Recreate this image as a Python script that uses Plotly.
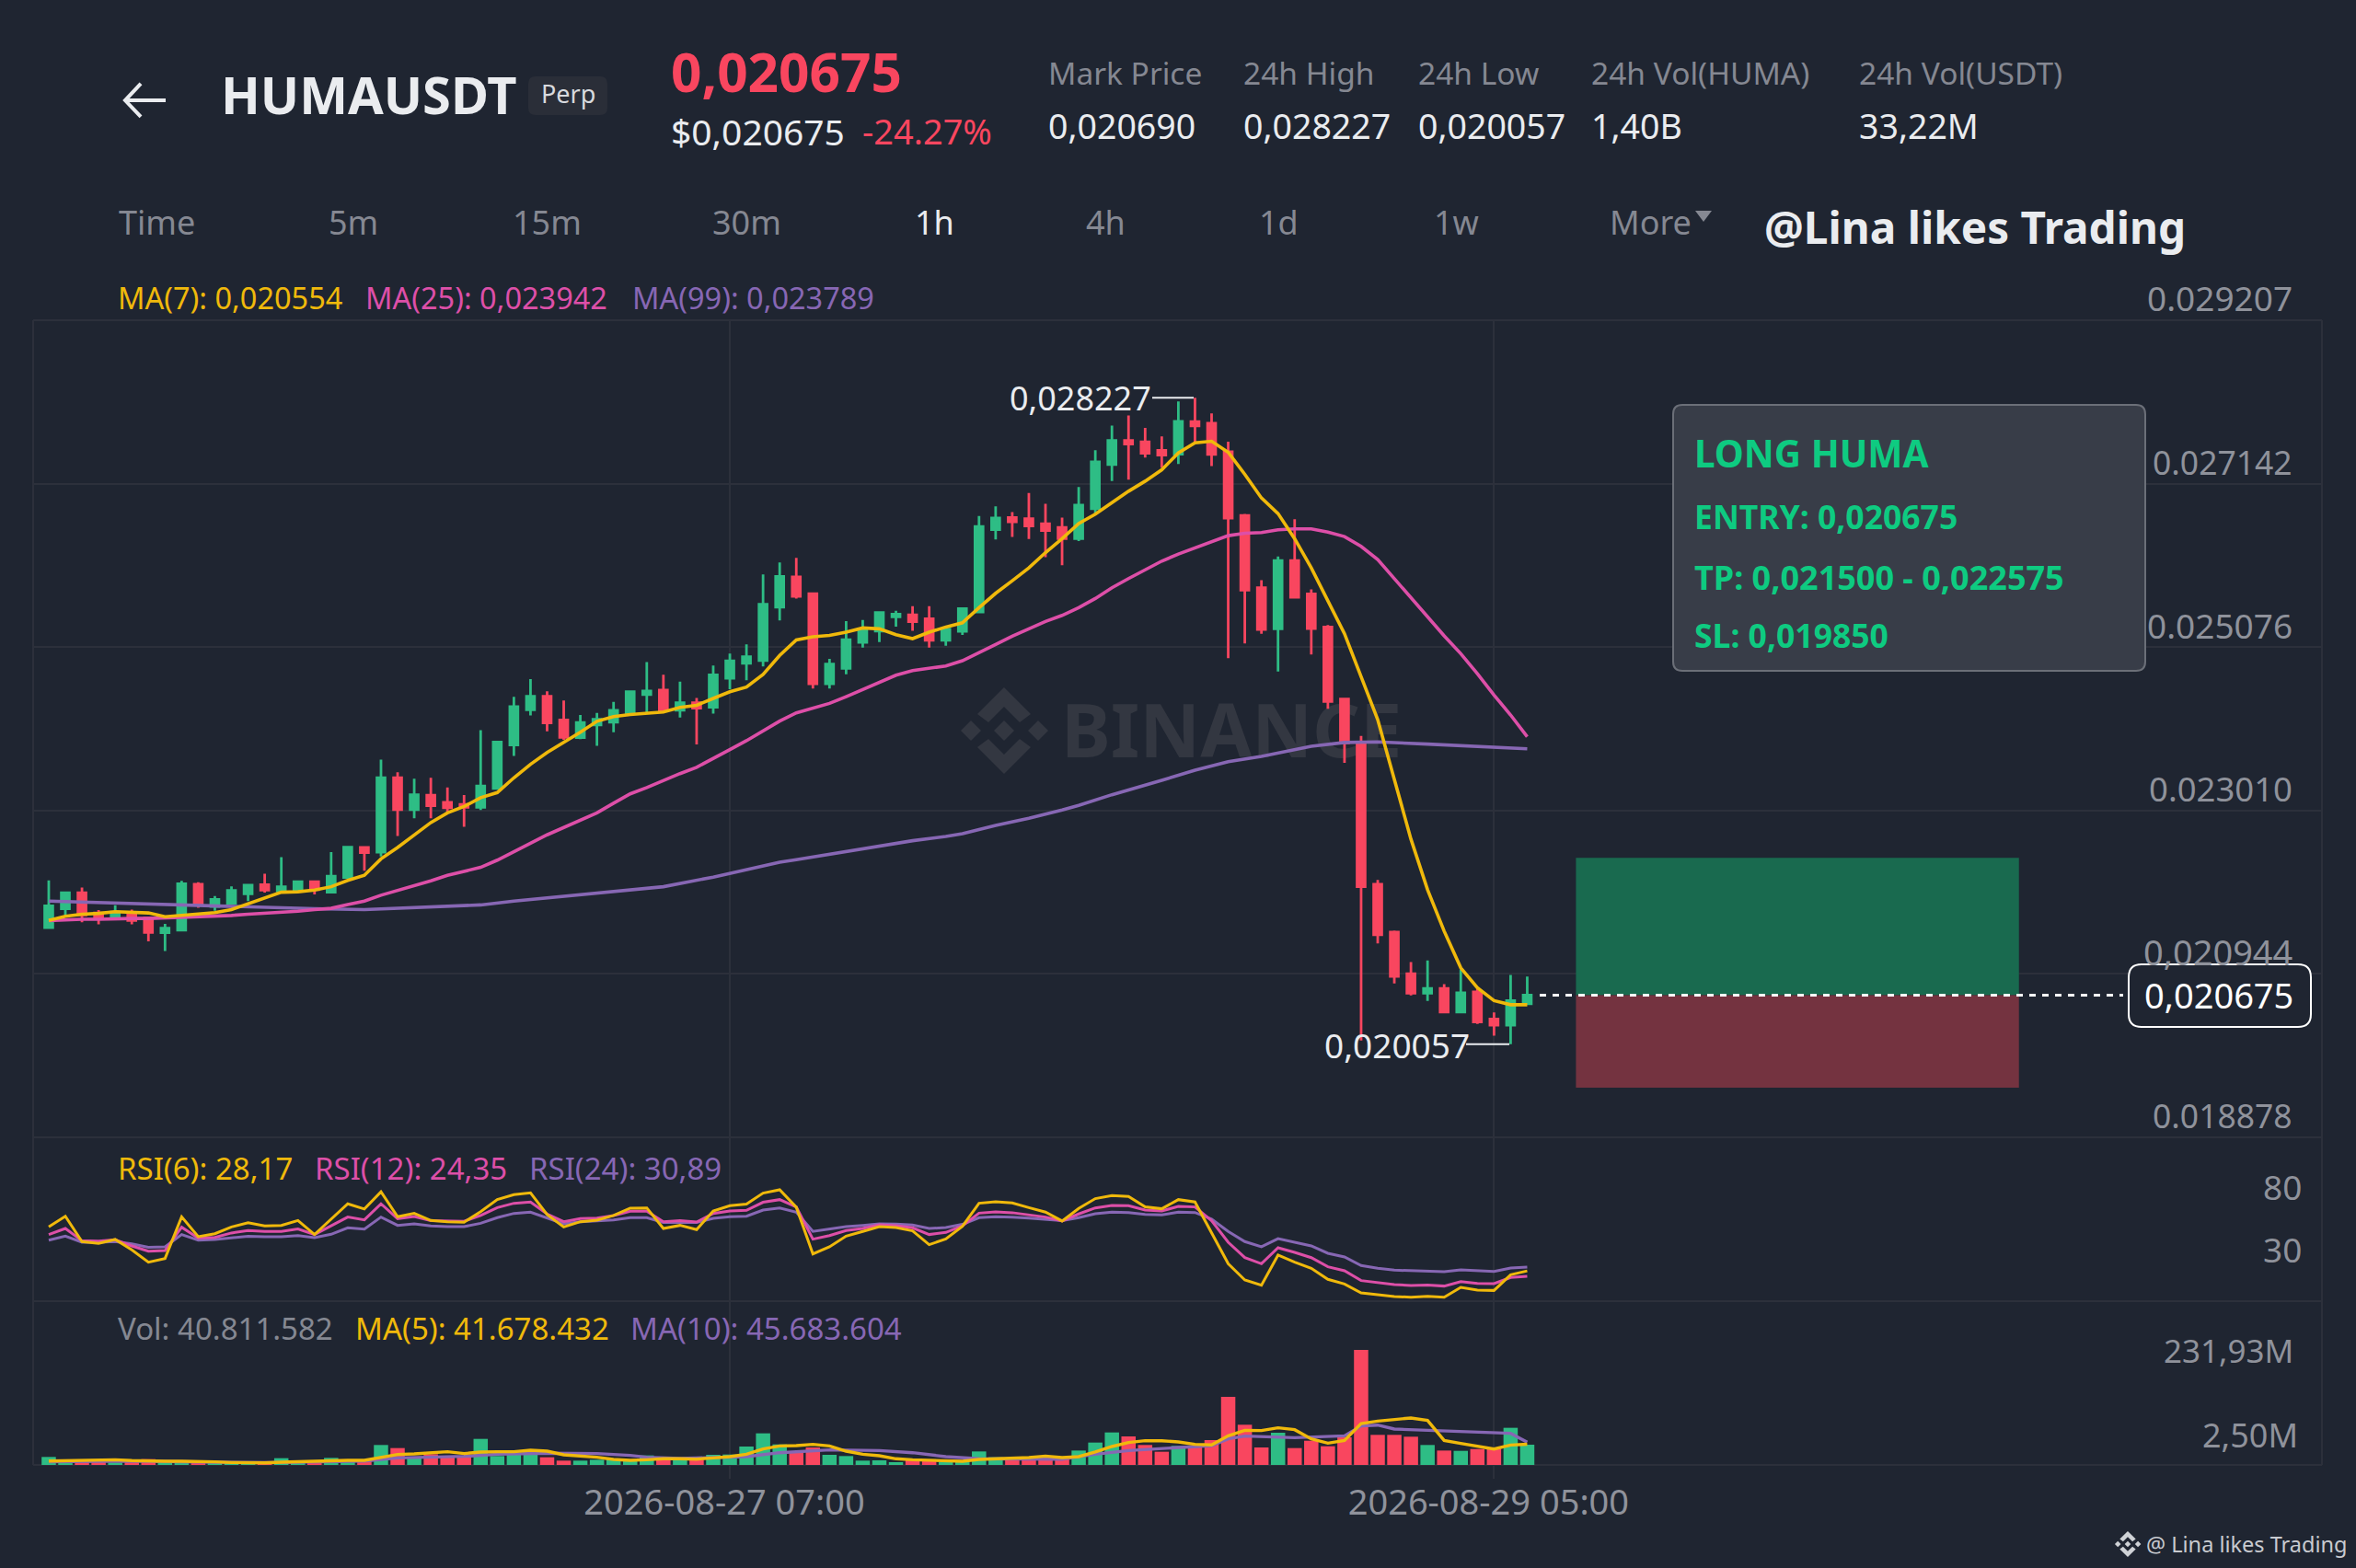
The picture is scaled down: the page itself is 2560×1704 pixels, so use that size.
import numpy as np
import pandas as pd
import plotly.graph_objects as go

W, H = 2560, 1704
BG = "#1f2531"
GRID = "#2c303b"
GREEN = "#2ebd85"
RED = "#f9465f"
YELLOW = "#f0b90b"
PINK = "#dd4fa8"
PURPLE = "#8767b4"
GREY = "#858892"
AXIS = "#8f929b"
WHITE = "#eaecef"
FONT = "Noto Sans"

dates = pd.date_range("2026-08-25 14:00", periods=90, freq="h")

# prices in millionths of USDT
open_ = [21528, 21768, 21971, 21715, 21661, 21715, 21651, 21464, 21496, 22078,
         21795, 21838, 21955, 22072, 21992, 21992, 22110, 21976, 22163, 22542,
         22483, 23423, 23022, 23204, 23113, 23086, 23049, 23289, 23839, 24282,
         24453, 24154, 23930, 24090, 24127, 24244, 24474, 24533, 24276, 24372,
         24314, 24682, 24869, 24906, 25579, 25964, 25751, 24612, 24806, 25135,
         25278, 25457, 25484, 25433, 25162, 25275, 25519, 26561, 26712, 26700,
         26635, 26588, 26445, 26824, 27382, 27688, 27669, 27561, 27514, 27925,
         27906, 27545, 26740, 25825, 25306, 26170, 25748, 25329, 24419, 23860,
         22078, 21474, 20947, 20699, 20761, 20462, 20718, 20373, 20296, 20567]
high = [22126, 21971, 22035, 21752, 21811, 21757, 21661, 21576, 22120, 22104,
        21928, 22051, 22083, 22211, 22419, 22115, 22126, 22483, 22547, 22542,
        23652, 23492, 23412, 23423, 23300, 23204, 24026, 23887, 24447, 24671,
        24517, 24399, 24218, 24244, 24383, 24511, 24885, 24725, 24639, 24431,
        24842, 24992, 25109, 25995, 26144, 26204, 25751, 24926, 25402, 25418,
        25523, 25534, 25592, 25592, 25302, 25561, 26731, 26855, 26782, 27022,
        26886, 26712, 27099, 27564, 27874, 28002, 27847, 27739, 28180, 28227,
        28030, 27673, 26759, 25922, 26220, 26693, 25806, 25353, 24427, 23953,
        22132, 21493, 21094, 21113, 20815, 21001, 20761, 20458, 20931, 20912]
low = [21523, 21688, 21597, 21571, 21661, 21571, 21357, 21234, 21496, 21779,
       21741, 21821, 21864, 21971, 21992, 21992, 21950, 21976, 22163, 22248,
       22430, 22686, 22910, 22910, 22996, 22803, 23017, 23289, 23700, 24212,
       24010, 23903, 23913, 23828, 23999, 24244, 24244, 24244, 24186, 23844,
       24234, 24543, 24655, 24831, 25413, 25689, 24550, 24550, 24732, 25069,
       25139, 25333, 25282, 25069, 25092, 25228, 25519, 26437, 26468, 26441,
       26212, 26111, 26414, 26766, 27173, 27192, 27471, 27344, 27390, 27666,
       27363, 24934, 25120, 25244, 24767, 25705, 24981, 24295, 23613, 20102,
       21330, 20823, 20672, 20602, 20462, 20451, 20311, 20164, 20057, 20567]
close = [21806, 21971, 21688, 21651, 21725, 21619, 21469, 21523, 22083, 21821,
         21885, 21998, 22067, 22003, 22046, 22110, 22008, 22179, 22547, 22478,
         23423, 23022, 23209, 23070, 23044, 23049, 23321, 23876, 24324, 24453,
         24116, 23935, 24122, 24164, 24276, 24511, 24522, 24276, 24372, 24303,
         24725, 24901, 24954, 25616, 25968, 25716, 24612, 24860, 25170, 25302,
         25511, 25492, 25395, 25162, 25302, 25561, 26600, 26708, 26658, 26607,
         26549, 26445, 26871, 27417, 27688, 27642, 27526, 27502, 27929, 27871,
         27511, 26705, 25794, 25298, 26170, 25705, 25310, 24388, 23865, 22047,
         21439, 20912, 20699, 20761, 20462, 20706, 20338, 20296, 20606, 20675]

ma7 = [21619, 21672, 21699, 21709, 21731, 21725, 21715, 21667, 21683, 21699,
       21720, 21757, 21827, 21902, 21976, 21982, 22003, 22046, 22126, 22190,
       22398, 22542, 22702, 22857, 22980, 23060, 23172, 23236, 23423, 23593,
       23743, 23866, 23999, 24138, 24196, 24223, 24234, 24255, 24314, 24340,
       24426, 24511, 24570, 24730, 24970, 25166, 25205, 25224, 25263, 25317,
       25306, 25232, 25182, 25263, 25329, 25383, 25573, 25755, 25914, 26077,
       26270, 26445, 26638, 26755, 26902, 27045, 27173, 27317, 27530, 27658,
       27677, 27538, 27259, 26960, 26763, 26445, 26077, 25670, 25244, 24702,
       24159, 23403, 22648, 22008, 21485, 21020, 20768, 20606, 20555, 20554]
ma25 = [21619, 21629, 21635, 21635, 21645, 21645, 21645, 21651, 21656, 21667,
        21672, 21683, 21699, 21709, 21720, 21736, 21757, 21773, 21821, 21864,
        21939, 21998, 22062, 22120, 22190, 22238, 22291, 22382, 22483, 22595,
        22702, 22793, 22889, 22980, 23102, 23220, 23300, 23391, 23476, 23556,
        23663, 23780, 23892, 24020, 24139, 24244, 24302, 24364, 24449, 24538,
        24635, 24720, 24779, 24806, 24837, 24903, 25011, 25108, 25213, 25309,
        25399, 25476, 25573, 25689, 25825, 25941, 26057, 26162, 26251, 26329,
        26399, 26484, 26515, 26523, 26557, 26569, 26569, 26530, 26472, 26348,
        26182, 25941, 25697, 25457, 25217, 24992, 24740, 24469, 24217, 23942]
ma99_idx = [0, 4, 8, 12, 16, 19, 23, 26, 28, 31, 34, 37, 40, 43, 44, 45, 46, 48, 50,
            52, 54, 55, 57, 59, 61, 62, 64, 66, 67, 69, 71, 73, 75, 76, 78, 80, 83, 87, 89]
ma99 = [21864, 21838, 21811, 21784, 21768, 21757, 21790, 21816, 21864, 21923, 21982,
        22046, 22168, 22302, 22355, 22388, 22423, 22493, 22558, 22628, 22682, 22717,
        22822, 22911, 23016, 23074, 23209, 23326, 23391, 23519, 23628, 23694, 23783,
        23822, 23869, 23876, 23849, 23803, 23789]

rsi6 = [59.4, 67.0, 49.0, 47.7, 50.5, 43.1, 34.4, 37.0, 66.6, 52.5,
        54.6, 59.4, 62.3, 60.1, 60.5, 64.0, 54.0, 64.9, 75.8, 72.1,
        84.3, 66.6, 69.0, 64.0, 63.1, 62.7, 70.3, 78.8, 82.3, 83.6,
        68.1, 59.4, 63.1, 64.2, 67.5, 72.7, 72.9, 58.3, 60.5, 57.5,
        70.7, 74.5, 75.6, 83.4, 85.8, 73.4, 40.2, 45.3, 52.9, 56.2,
        59.6, 59.0, 56.6, 46.8, 50.9, 59.9, 76.2, 77.3, 76.4, 73.1,
        69.9, 63.6, 72.5, 79.5, 81.6, 81.0, 73.6, 72.3, 78.8, 77.1,
        55.1, 33.3, 21.7, 18.0, 39.4, 34.4, 30.0, 22.2, 18.9, 12.6,
        11.3, 10.0, 9.5, 10.2, 9.5, 16.5, 14.5, 14.3, 25.4, 28.17]
rsi12 = [54.0, 58.3, 49.6, 49.4, 50.3, 45.9, 42.2, 42.6, 59.2, 51.4,
         52.0, 55.1, 56.8, 56.2, 56.2, 57.9, 54.0, 60.1, 66.4, 64.4,
         75.8, 65.3, 66.8, 63.8, 63.4, 63.4, 67.5, 73.1, 76.2, 77.1,
         68.6, 63.1, 65.3, 65.7, 67.5, 70.5, 70.5, 63.1, 63.8, 62.9,
         69.0, 70.7, 71.2, 76.9, 78.8, 73.6, 50.7, 53.3, 56.8, 58.3,
         60.9, 60.3, 58.8, 54.0, 55.5, 60.1, 69.2, 70.1, 69.5, 68.1,
         66.4, 63.6, 68.6, 72.9, 74.7, 74.5, 71.4, 70.7, 74.0, 73.6,
         63.8, 48.5, 37.6, 33.3, 44.6, 41.3, 37.6, 31.1, 28.3, 21.3,
         19.8, 18.5, 17.8, 18.2, 17.4, 20.6, 19.3, 19.1, 23.5, 24.35]
rsi24 = [50.0, 52.9, 48.5, 48.5, 49.0, 47.4, 45.0, 45.3, 54.0, 50.0,
         50.5, 51.8, 52.7, 52.5, 52.5, 53.3, 51.8, 54.2, 58.8, 57.9,
         66.4, 60.5, 61.6, 60.1, 59.6, 59.6, 62.0, 66.0, 69.0, 69.9,
         65.5, 61.6, 63.1, 63.6, 64.4, 66.0, 66.0, 62.5, 62.7, 62.5,
         65.5, 66.6, 67.0, 71.4, 72.9, 69.9, 56.2, 57.7, 59.6, 60.5,
         61.6, 61.4, 60.7, 58.3, 59.0, 61.2, 66.0, 66.6, 66.4, 65.7,
         64.9, 63.8, 66.0, 68.8, 69.9, 69.6, 68.3, 67.9, 69.9, 69.6,
         64.9, 56.2, 49.0, 45.3, 51.1, 48.5, 45.9, 40.7, 38.1, 32.0,
         30.0, 28.7, 28.3, 28.3, 27.6, 28.9, 28.3, 27.8, 30.2, 30.89]

# volume in millions
volume = [16.1, 4.3, 5.6, 6.2, 4.9, 7.4, 11.7, 7.4, 7.4, 6.2,
          4.3, 4.3, 4.3, 3.7, 13.6, 7.4, 6.2, 14.2, 6.8, 7.4,
          40.2, 34.0, 13.6, 21.6, 15.5, 18.5, 52.5, 17.9, 24.1, 26.6,
          15.5, 8.7, 8.7, 10.5, 12.4, 10.5, 19.2, 13.6, 11.7, 10.5,
          20.4, 21.0, 37.1, 63.7, 41.4, 24.7, 35.2, 20.4, 17.9, 8.7,
          9.3, 5.6, 11.1, 11.1, 6.2, 6.2, 27.2, 15.5, 12.4, 12.4,
          14.2, 12.4, 29.0, 45.1, 65.5, 57.5, 40.2, 26.6, 38.3, 37.1,
          50.1, 137.2, 81.0, 35.2, 64.9, 34.0, 48.8, 37.7, 55.6, 231.93,
          60.6, 60.6, 56.9, 40.2, 29.0, 28.4, 32.1, 32.8, 74.8, 40.81]
vol_ma5 = [8.0, 8.7, 9.9, 10.5, 10.5, 8.7, 7.4, 7.4, 7.4, 7.4,
           6.2, 4.9, 4.3, 4.3, 5.6, 6.8, 7.4, 9.3, 9.3, 9.3,
           15.5, 21.0, 22.2, 24.7, 26.6, 22.9, 26.0, 26.6, 26.6, 29.7,
           27.8, 20.4, 17.9, 15.5, 11.1, 9.3, 10.5, 12.4, 12.4, 11.7,
           14.2, 16.7, 21.6, 32.1, 38.3, 38.9, 41.4, 38.3, 27.8, 21.6,
           18.5, 12.4, 10.5, 9.3, 8.0, 7.4, 11.1, 12.4, 13.0, 14.8,
           17.9, 14.8, 16.7, 26.0, 37.1, 45.1, 48.8, 48.8, 46.4, 41.4,
           40.2, 58.7, 69.8, 69.2, 74.8, 71.1, 52.5, 43.9, 49.4, 83.4,
           88.4, 90.8, 94.6, 89.6, 49.4, 43.3, 38.3, 32.1, 40.2, 41.68]
vol_ma10_idx = [0, 5, 10, 14, 19, 20, 21, 25, 27, 30, 33, 35, 36, 38, 42, 44, 46, 47, 50, 52,
                54, 56, 61, 63, 65, 68, 70, 71, 72, 75, 78, 79, 80, 81, 83, 85, 87, 88, 89]
vol_ma10 = [6.2, 8.0, 5.6, 4.9, 8.0, 11.7, 14.2, 17.3, 21.6, 23.5, 22.9, 19.2, 15.5, 13.0,
            16.7, 24.7, 27.8, 30.3, 29.0, 24.7, 16.7, 12.4, 11.7, 21.6, 29.0, 34.0, 38.9,
            52.5, 58.1, 55.0, 58.7, 78.5, 80.3, 72.3, 69.8, 66.1, 63.7, 63.7, 45.68]

price_ticks = [0.029207, 0.027142, 0.025076, 0.023010, 0.020944, 0.018878]
price_tick_labels = ["0.029207", "0.027142", "0.025076", "0.023010", "0,020944", "0.018878"]
price_tick_sizes = [37, 35.5, 37, 36.5, 38, 35.5]
time_ticks = ["2026-08-27 07:00", "2026-08-29 05:00"]

entry = 0.020675
zone_top = 0.022411
zone_bottom = 0.019506
zone_start = "2026-08-29 09:56"
zone_end = "2026-08-30 12:36"
x_range = ["2026-08-25 13:03:36", "2026-08-31 06:50:24"]


def px(x):
    return x / W


def py(y):
    return 1 - y / H


def micro(values):
    return np.array(values) / 1e6


def txt(x, y, text, color=WHITE, size=33, anchor="left", weight=400):
    # annotations sit a little right of and below the requested spot
    x = x - 1.5 if anchor == "left" else x
    return dict(xref="paper", yref="paper", x=px(x), y=py(y - 2), text=text, showarrow=False,
                xanchor=anchor, yanchor="middle", borderpad=0,
                font=dict(family=FONT, size=size, color=color, weight=weight))


def poly(points):
    return "M " + " L ".join(f"{px(a):.5f},{py(b):.5f}" for a, b in points) + " Z"


def rounded(x0, y0, x1, y1, r):
    return (f"M {px(x0 + r):.5f},{py(y0):.5f} L {px(x1 - r):.5f},{py(y0):.5f} "
            f"Q {px(x1):.5f},{py(y0):.5f} {px(x1):.5f},{py(y0 + r):.5f} "
            f"L {px(x1):.5f},{py(y1 - r):.5f} Q {px(x1):.5f},{py(y1):.5f} {px(x1 - r):.5f},{py(y1):.5f} "
            f"L {px(x0 + r):.5f},{py(y1):.5f} Q {px(x0):.5f},{py(y1):.5f} {px(x0):.5f},{py(y1 - r):.5f} "
            f"L {px(x0):.5f},{py(y0 + r):.5f} Q {px(x0):.5f},{py(y0):.5f} {px(x0 + r):.5f},{py(y0):.5f} Z")


def logo(cx, cy, s, color, layer):
    # five pieces of the exchange mark, s=1 is 47px from centre to tip
    parts = []
    for dx in (-36, 0, 37):
        parts.append([(cx + (dx - 11) * s, cy), (cx + dx * s, cy - 11 * s),
                      (cx + (dx + 11) * s, cy), (cx + dx * s, cy + 11 * s)])
    for sign in (1, -1):
        parts.append([(cx, cy + 47 * s * sign), (cx - 29 * s, cy + 18 * s * sign),
                      (cx - 17 * s, cy + 9 * s * sign), (cx, cy + 26 * s * sign),
                      (cx + 17 * s, cy + 9 * s * sign), (cx + 29 * s, cy + 18 * s * sign)])
    return [dict(type="path", xref="paper", yref="paper", path=poly(p), fillcolor=color,
                 line=dict(width=0), layer=layer) for p in parts]


fig = go.Figure()

# watermark sits under the candles
fig.add_trace(go.Scatter(x=["2026-08-28 13:12"], y=[0.023923], mode="text", text=["BINANCE"],
                         textposition="middle center", zorder=-1, hoverinfo="skip",
                         textfont=dict(family=FONT, size=81, color="#333741", weight=700),
                         xaxis="x", yaxis="y"))

fig.add_trace(go.Candlestick(x=dates, open=micro(open_), high=micro(high), low=micro(low),
                             close=micro(close), xaxis="x", yaxis="y", whiskerwidth=0,
                             increasing=dict(line=dict(color=GREEN, width=2.8), fillcolor=GREEN),
                             decreasing=dict(line=dict(color=RED, width=2.8), fillcolor=RED)))
fig.add_trace(go.Scatter(x=dates[ma99_idx], y=micro(ma99), mode="lines", xaxis="x", yaxis="y",
                         line=dict(color=PURPLE, width=3.6)))
fig.add_trace(go.Scatter(x=dates, y=micro(ma25), mode="lines", xaxis="x", yaxis="y",
                         line=dict(color=PINK, width=3.6)))
fig.add_trace(go.Scatter(x=dates, y=micro(ma7), mode="lines", xaxis="x", yaxis="y",
                         line=dict(color=YELLOW, width=3.6)))

for series, color in [(rsi24, PURPLE), (rsi12, PINK), (rsi6, YELLOW)]:
    fig.add_trace(go.Scatter(x=dates, y=series, mode="lines", xaxis="x2", yaxis="y2",
                             line=dict(color=color, width=3)))

bar_colors = [GREEN if c >= o else RED for o, c in zip(open_, close)]
fig.add_trace(go.Bar(x=dates, y=volume, marker=dict(color=bar_colors, line=dict(width=0)),
                     xaxis="x3", yaxis="y3"))
fig.add_trace(go.Scatter(x=dates[vol_ma10_idx], y=vol_ma10, mode="lines", xaxis="x3", yaxis="y3",
                         line=dict(color=PURPLE, width=3.4)))
fig.add_trace(go.Scatter(x=dates, y=vol_ma5, mode="lines", xaxis="x3", yaxis="y3",
                         line=dict(color=YELLOW, width=3.4)))

x_common = dict(domain=[px(36), px(2523)], range=x_range, type="date", tickvals=time_ticks,
                showgrid=True, gridcolor=GRID, gridwidth=2, zeroline=False, showline=False,
                rangeslider=dict(visible=False))
y_common = dict(side="right", showticklabels=False, zeroline=False, showline=False)

annotations = []
for value, label, size in zip(price_ticks, price_tick_labels, price_tick_sizes):
    annotations.append(dict(xref="paper", yref="y", x=px(2493), y=value, text=label, showarrow=False,
                            xanchor="right", yanchor="middle", yshift=24,
                            font=dict(family=FONT, size=size, color=AXIS)))

annotations += [
    txt(240, 104, "HUMAUSDT", WHITE, 56, weight=700),
    txt(617, 103, "Perp", "#d8dade", 27, "center"),
    txt(729, 79, "0,020675", RED, 58.5, weight=700),
    txt(729, 144, "$0,020675", WHITE, 39),
    txt(937, 144, "-24.27%", RED, 38),
    txt(1917, 248, "@Lina likes Trading", WHITE, 47.7, weight=700),
    txt(128, 325, "MA(7): 0,020554", YELLOW, 32.5),
    txt(397, 325, "MA(25): 0,023942", PINK, 32.5),
    txt(687, 325, "MA(99): 0,023789", PURPLE, 32.5),
    txt(128, 1271, "RSI(6): 28,17", YELLOW, 33),
    txt(342, 1271, "RSI(12): 24,35", PINK, 33),
    txt(575, 1271, "RSI(24): 30,89", PURPLE, 33),
    txt(128, 1445, "Vol: 40.811.582", GREY, 33),
    txt(386, 1445, "MA(5): 41.678.432", YELLOW, 33),
    txt(685, 1445, "MA(10): 45.683.604", PURPLE, 33),
    txt(2502, 1291, "80", AXIS, 37, "right"),
    txt(2502, 1359, "30", AXIS, 37, "right"),
    txt(2493, 1469, "231,93M", AXIS, 35, "right"),
    txt(2498, 1561, "2,50M", AXIS, 36, "right"),
    txt(1252, 434, "0,028227", WHITE, 36, "right"),
    txt(1598, 1137, "0,020057", WHITE, 37, "right"),
    txt(2411, 1083, "0,020675", "#ffffff", 38, "center"),
    txt(1841, 495, "LONG HUMA", "#0ecb81", 40.5, weight=700),
    txt(1841, 563, "ENTRY: 0,020675", "#0ecb81", 35.5, weight=700),
    txt(1841, 629, "TP: 0,021500 - 0,022575", "#0ecb81", 36, weight=700),
    txt(1841, 692, "SL: 0,019850", "#0ecb81", 35.5, weight=700),
    txt(2552, 1680, "@ Lina likes Trading", "#c8cacf", 23.5, "right"),
]

for x, title, value in [(1139, "Mark Price", "0,020690"), (1351, "24h High", "0,028227"),
                        (1541, "24h Low", "0,020057"), (1729, "24h Vol(HUMA)", "1,40B"),
                        (2020, "24h Vol(USDT)", "33,22M")]:
    annotations.append(txt(x, 81, title, GREY, 33.5))
    annotations.append(txt(x, 138, value, WHITE, 37.5))

for x, tab in [(129, "Time"), (357, "5m"), (557, "15m"), (774, "30m"), (994, "1h"), (1180, "4h"),
               (1368, "1d"), (1558, "1w"), (1749, "More")]:
    annotations.append(txt(x, 243, tab, WHITE if tab == "1h" else GREY, 36))

shapes = logo(1091, 794, 1, "#333741", "below") + logo(2312, 1678, 0.3, "#cfd2d6", "above")

# panel frames
for y in (348, 1236, 1414, 1592):
    shapes.append(dict(type="line", xref="paper", yref="paper", x0=px(36), x1=px(2523), y0=py(y), y1=py(y),
                       line=dict(color=GRID, width=2), layer="below"))
for x in (36, 2523):
    shapes.append(dict(type="line", xref="paper", yref="paper", x0=px(x), x1=px(x), y0=py(348), y1=py(1592),
                       line=dict(color=GRID, width=2), layer="below"))

shapes += [
    dict(type="rect", xref="x", yref="y", x0=zone_start, x1=zone_end, y0=entry, y1=zone_top,
         fillcolor="#196a4f", line=dict(width=0)),
    dict(type="rect", xref="x", yref="y", x0=zone_start, x1=zone_end, y0=zone_bottom, y1=entry,
         fillcolor="#743340", line=dict(width=0)),
    dict(type="line", xref="paper", yref="y", x0=px(1673), x1=px(2307), y0=entry, y1=entry,
         line=dict(color="#ffffff", width=3, dash="7px,7px")),
    dict(type="line", xref="paper", yref="y", x0=px(1252), x1=px(1297), y0=0.028227, y1=0.028227,
         line=dict(color=WHITE, width=2)),
    dict(type="line", xref="paper", yref="y", x0=px(1593), x1=px(1640), y0=0.020057, y1=0.020057,
         line=dict(color=WHITE, width=2)),
    dict(type="path", xref="paper", yref="paper", path=rounded(2313, 1048, 2511, 1116, 14),
         fillcolor=BG, line=dict(color="#ffffff", width=2)),
    dict(type="path", xref="paper", yref="paper", path=rounded(1818, 440, 2331, 729, 10),
         fillcolor="#383d48", line=dict(color="#6b6f78", width=2)),
    dict(type="path", xref="paper", yref="paper", path=rounded(574, 83, 660, 125, 8),
         fillcolor="#2a2e38", line=dict(width=0)),
    dict(type="path", xref="paper", yref="paper", line=dict(width=0), fillcolor=GREY,
         path=poly([(1842, 229), (1860, 229), (1851, 241)])),
    # back arrow
    dict(type="path", xref="paper", yref="paper", line=dict(color=WHITE, width=4),
         path=(f"M {px(180):.5f},{py(109):.5f} L {px(137):.5f},{py(109):.5f} "
               f"M {px(153):.5f},{py(91):.5f} L {px(136):.5f},{py(109):.5f} L {px(153):.5f},{py(127):.5f}")),
]

fig.update_layout(
    width=W,
    height=H,
    margin=dict(l=0, r=0, t=0, b=0),
    paper_bgcolor=BG,
    plot_bgcolor=BG,
    showlegend=False,
    boxgap=0.3,
    bargap=0.14,
    font=dict(family=FONT),
    xaxis=dict(x_common, anchor="y", showticklabels=False),
    xaxis2=dict(x_common, anchor="y2", showticklabels=False),
    xaxis3=dict(x_common, anchor="y3", tickformat="%Y-%m-%d %H:%M", ticks="outside", ticklen=14,
                tickcolor=GRID, tickwidth=2, ticklabelshift=-6, ticklabelstandoff=-7,
                tickfont=dict(family=FONT, size=38, color=AXIS)),
    yaxis=dict(y_common, domain=[py(1236), py(348)], range=[0.018878, 0.029207], anchor="x",
               tickvals=price_ticks, showgrid=True, gridcolor=GRID, gridwidth=2),
    yaxis2=dict(y_common, domain=[py(1414), py(1236)], range=[6.7, 123], anchor="x2", showgrid=False),
    yaxis3=dict(y_common, domain=[py(1592), py(1414)], range=[0, 330], anchor="x3", showgrid=False),
    annotations=annotations,
    shapes=shapes,
)

fig.write_html("out.html", config=dict(displayModeBar=False),
               post_script=f"document.body.style.margin='0';document.body.style.background='{BG}';"
                           "document.body.style.overflow='hidden';")
